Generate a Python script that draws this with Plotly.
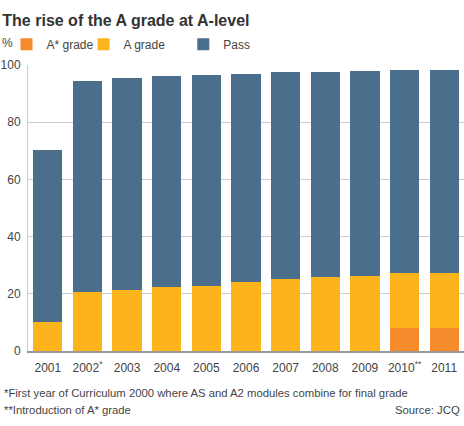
import plotly.graph_objects as go

years = ['2001', '2002', '2003', '2004', '2005', '2006', '2007', '2008', '2009', '2010', '2011']
year_labels = ['2001', '2002<sup>*</sup>', '2003', '2004', '2005', '2006', '2007', '2008', '2009',
               '2010<sup>**</sup>', '2011']

# cumulative rates (%)
pass_rate = [70.3, 94.3, 95.4, 96.1, 96.4, 96.9, 97.4, 97.4, 97.8, 98.1, 98.1]
a_or_better = [10.3, 20.8, 21.5, 22.5, 22.9, 24.2, 25.2, 26.0, 26.4, 27.1, 27.1]
a_star = [0, 0, 0, 0, 0, 0, 0, 0, 0, 8.1, 8.2]

# stacked segments
a_only = [a - s for a, s in zip(a_or_better, a_star)]
pass_only = [p - a for p, a in zip(pass_rate, a_or_better)]

blue = '#4a6e8c'
yellow = '#fcb31c'
orange = '#f58b2a'
txt = '#444444'
font = 'Liberation Sans, Arial, sans-serif'

fig = go.Figure()
fig.add_bar(x=years, y=a_star, name='A* grade', marker_color=orange, marker_line_width=0, legend='legend')
fig.add_bar(x=years, y=a_only, name='A grade', marker_color=yellow, marker_line_width=0, legend='legend2')
fig.add_bar(x=years, y=pass_only, name='Pass', marker_color=blue, marker_line_width=0, legend='legend3')

leg = dict(orientation='h', xref='container', yref='container', yanchor='middle',
           y=0.896, font=dict(family=font, size=12, color=txt), itemwidth=30,
           bgcolor='rgba(0,0,0,0)', tracegroupgap=0)

fig.update_layout(
    width=464, height=426,
    margin=dict(l=28, r=0, t=65, b=75),
    barmode='stack', bargap=0.26,
    plot_bgcolor='white', paper_bgcolor='white',
    font=dict(family=font, size=12, color=txt),
    title=dict(text='<b>The rise of the A grade at A-level</b>', x=0.005, xanchor='left',
               y=0.953, yanchor='middle', xref='container', yref='container',
               font=dict(family=font, size=16, color='#333333')),
    legend=dict(leg, x=0.014),
    legend2=dict(leg, x=0.18),
    legend3=dict(leg, x=0.395),
    xaxis=dict(tickvals=years, ticktext=year_labels, showline=True, linecolor='#999999',
               linewidth=2, ticks='', tickfont=dict(size=12, color=txt), fixedrange=True,
               ticklabelstandoff=5),
    yaxis=dict(range=[0, 100], dtick=20, showgrid=True, gridcolor='#cccccc', gridwidth=1,
               showline=True, linecolor='#cccccc', linewidth=1, ticks='', zeroline=False,
               tickfont=dict(size=12, color=txt), ticklabelstandoff=4, fixedrange=True),
    showlegend=True,
)

fig.add_annotation(text='%', xref='paper', yref='paper', x=-0.064, y=1.078,
                   xanchor='left', yanchor='middle', showarrow=False,
                   font=dict(family=font, size=12, color=txt))
fig.add_annotation(text='*First year of Curriculum 2000 where AS and A2 modules combine for final grade',
                   xref='paper', yref='paper', x=-0.06, y=-0.147, xanchor='left', yanchor='middle',
                   showarrow=False, font=dict(family=font, size=11.3, color=txt))
fig.add_annotation(text='**Introduction of A* grade',
                   xref='paper', yref='paper', x=-0.06, y=-0.205, xanchor='left', yanchor='middle',
                   showarrow=False, font=dict(family=font, size=11.3, color=txt))
fig.add_annotation(text='Source: JCQ',
                   xref='paper', yref='paper', x=0.995, y=-0.205, xanchor='right', yanchor='middle',
                   showarrow=False, font=dict(family=font, size=11.3, color=txt))

fig.write_html('out.html', config={'displayModeBar': False},
               post_script="document.body.style.margin='0';")
